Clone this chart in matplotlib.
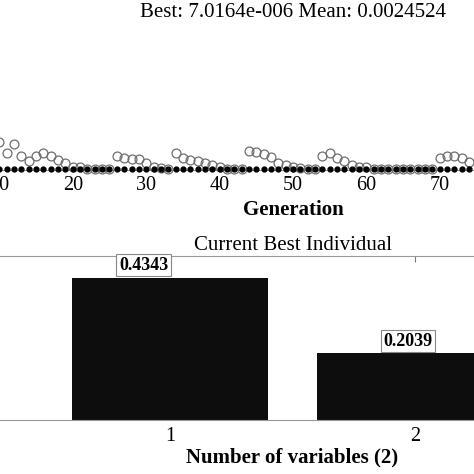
"""GA progress plot: best/mean fitness per generation and the current best individual."""

import matplotlib
matplotlib.use("Agg")
import matplotlib.pyplot as plt

plt.rcParams["font.family"] = ["Liberation Serif", "DejaVu Serif"]

# fitness per generation (only generations 10-74 are in view)
generations = list(range(10, 75))
mean_fitness = [
    0.0095, 0.0057, 0.0088, 0.0048, 0.0029, 0.0048, 0.0055, 0.0045, 0.0033, 0.0021,
    0.0010, 0.0007, 0.0003, 0.0001, 0.0001, 0.0001, 0.0045, 0.0040, 0.0036, 0.0036,
    0.0024, 0.0010, 0.0005, 0.0002, 0.0057, 0.0041, 0.0034, 0.0028, 0.0021, 0.0014,
    0.0007, 0.0003, 0.0001, 0.0001, 0.0062, 0.0060, 0.0053, 0.0043, 0.0024, 0.0017,
    0.0010, 0.0005, 0.0001, 0.0001, 0.0046, 0.0055, 0.0041, 0.0028, 0.0017, 0.0010,
    0.0007, 0.0003, 0.0001, 0.0001, 0.0001, 0.0001, 0.0001, 0.0001, 0.0001, 0.0001,
    0.0038, 0.0048, 0.0046, 0.0040, 0.0026,
]
best_fitness = [7.0164e-06] * len(generations)

best_text = "Best: 7.0164e-006 Mean: 0.0024524"

# current best individual
variables = [1, 2]
best_individual = [0.4343, 0.2039]

W = 474
fig = plt.figure(figsize=(4.74, 4.74), dpi=100)

# top: fitness by generation (axes run past the cropped canvas)
ax1 = fig.add_axes([-74 / W, (W - 169.5) / W, 734 / W, (169.5 - 24) / W])
ax1.plot(generations, mean_fitness, "o", ms=6.4, mfc="none", mec="#6e6e6e",
         mew=0.9, zorder=3, clip_on=False)
ax1.plot(generations, best_fitness, ".", ms=7, color="black", zorder=4,
         clip_on=False)
ax1.set_xlim(0, 100)
ax1.set_ylim(0, 0.05)
ax1.set_xticks(range(0, 101, 10))
ax1.set_yticks([])
for s in ("top", "right", "left"):
    ax1.spines[s].set_visible(False)
ax1.spines["bottom"].set_color("#999999")
ax1.tick_params(axis="x", direction="in", length=0, pad=5, labelsize=14.5)
ax1.set_xlabel("Generation", fontsize=15, fontweight="bold", labelpad=3)
ax1.set_title(best_text, fontsize=15, pad=5)

# bottom: best individual bars
ax2 = fig.add_axes([-75 / W, (W - 420) / W, 735 / W, (420 - 256) / W])
ax2.bar(variables, best_individual, width=0.8, color="#0d0d0d", zorder=1)
ax2.set_xlim(0, 3)
ax2.set_ylim(0, 0.5)
ax2.set_xticks(variables)
ax2.set_yticks([])
for s in ("left", "right"):
    ax2.spines[s].set_visible(False)
for s in ("top", "bottom"):
    ax2.spines[s].set_color("#999999")
ax2.tick_params(axis="x", direction="in", top=True, bottom=False, length=4,
                color="#777777", pad=5, labelsize=14.5)
ax2.set_xlabel("Number of variables (2)", fontsize=15, fontweight="bold",
               labelpad=1)
ax2.set_title("Current Best Individual", fontsize=15, pad=4)

for i, (x, v) in enumerate(zip(variables, best_individual)):
    dx = (-0.108, -0.028)[i]
    ax2.annotate(f"{v:.4f}", (x + dx, v), xytext=(0, 2.6),
                 textcoords="offset points", ha="center", va="bottom",
                 fontsize=13, fontweight="bold", zorder=5,
                 bbox=dict(boxstyle="square,pad=0.14", fc="white",
                           ec="#888888", lw=0.8))

fig.savefig("out.png", dpi=100)
